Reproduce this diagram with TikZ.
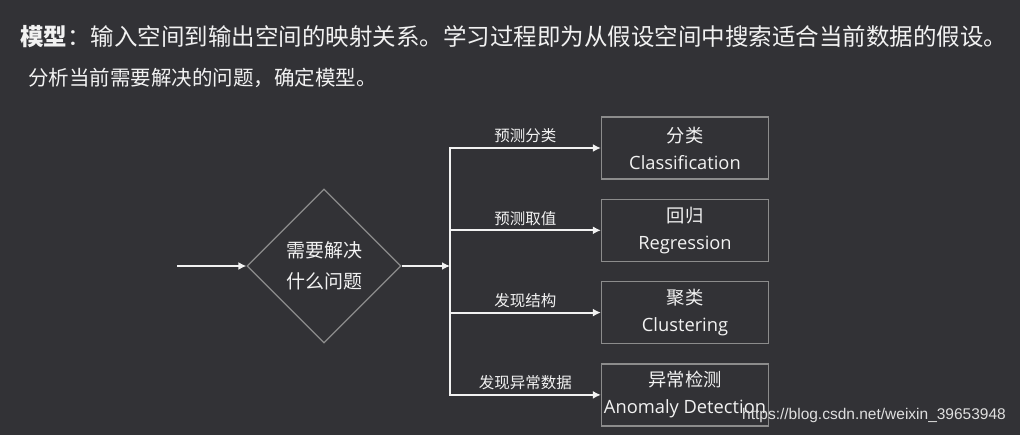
\documentclass[tikz,border=0pt]{standalone}
\usepackage{fontspec}
\setmainfont{Open Sans}
\newfontfamily\cjk{Noto Sans CJK SC}
\newfontfamily\wmfont{Liberation Sans}
\usetikzlibrary{shapes.geometric, arrows.meta, positioning}
\definecolor{bg}{HTML}{323236}
\definecolor{txt}{HTML}{F2F2F2}
\definecolor{rim}{HTML}{8C8C8C}
\tikzset{
    wenti/.style    = {diamond, draw=rim, line width=1.3pt, text=txt, minimum width=154pt, minimum height=154pt,
                       inner sep=0pt, align=center, font=\cjk\fontsize{19}{31}\selectfont},
    leixing/.style  = {draw=rim, line width=1.3pt, text=txt, minimum width=167pt, minimum height=62pt,
                       inner sep=0pt, align=center, font=\fontsize{18.3}{27}\selectfont},
    biaoqian/.style = {text=txt, font=\cjk\fontsize{15.5}{18}\selectfont, inner sep=4pt},
    jian/.style     = {-{Latex[length=8pt,width=8pt]}, line width=2pt, txt},
}

\begin{document}
\begin{tikzpicture}[x=1pt, y=-1pt]
        \fill[bg] (0,0) rectangle (1020,435);
        \useasboundingbox (0,0) rectangle (1020,435);
        % heading
        \node[anchor=west, text=txt, inner sep=0pt, font=\cjk\fontsize{23.5}{26}\selectfont] (title) at (20,37) {\textbf{模型}：输入空间到输出空间的映射关系。学习过程即为从假设空间中搜索适合当前数据的假设。};
        \node[anchor=west, text=txt, inner sep=0pt, font=\cjk\fontsize{20.5}{24}\selectfont] (sub) at (28,78) {分析当前需要解决的问题，确定模型。};
        % decision and branches
        \coordinate (in) at (177,266);
        \node[wenti] (q) at (324,266) {需要解决\\什么问题};
        \coordinate (j) at (450,266);
        \node[leixing] (c1) at (685,148) {{\cjk 分类}\\Classification};
        \node[leixing, below=19pt of c1] (c2) {{\cjk 回归}\\Regression};
        \node[leixing, below=19pt of c2] (c3) {{\cjk 聚类}\\Clustering};
        \node[leixing, below=19pt of c3] (c4) {{\cjk 异常检测}\\Anomaly Detection};
        \draw[jian] (in) -- (q);
        \draw[jian] (q) -- (j);
        \draw[jian] (j) |- node[biaoqian, above, pos=0.75] {预测分类} (c1);
        \draw[jian] (j) |- node[biaoqian, above, pos=0.75] {预测取值} (c2);
        \draw[jian] (j) |- node[biaoqian, above, pos=0.75] {发现结构} (c3);
        \draw[jian] (j) |- node[biaoqian, above, pos=0.75] {发现异常数据} (c4);
        % watermark
        \node[text=txt!90!bg, font=\wmfont\fontsize{15.5}{18}\selectfont, inner sep=0pt] (wm) at (874,415) {https://blog.csdn.net/weixin\_39653948};
    \end{tikzpicture}
\end{document}
